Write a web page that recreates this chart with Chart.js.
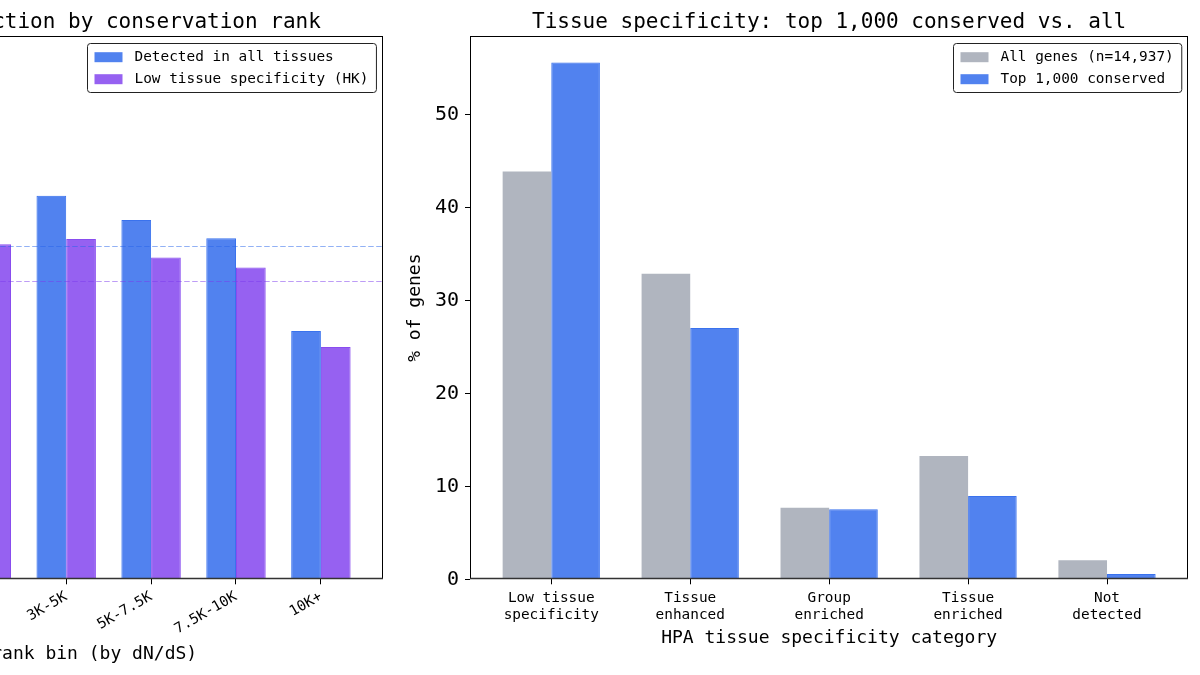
<!DOCTYPE html>
<html>
<head>
<meta charset="utf-8">
<script src="https://cdn.jsdelivr.net/npm/chart.js@4.4.1/dist/chart.umd.min.js"></script>
<style>
  html, body { margin: 0; padding: 0; background: #fff; }
  body { width: 1200px; height: 675px; overflow: hidden; position: relative; }
  .panel { position: absolute; top: 0; height: 675px; }
  #leftBox { left: -420px; width: 820px; }
  #rightBox { left: 400px; width: 800px; }
</style>
</head>
<body>
<div class="panel" id="leftBox"><canvas id="leftChart" width="820" height="675"></canvas></div>
<div class="panel" id="rightBox"><canvas id="rightChart" width="800" height="675"></canvas></div>
<script>
const FONT = '"DejaVu Sans Mono", monospace';

// left panel (the figure is cropped, first bins sit off-screen)
const rankBins = ['0-500', '500-1K', '1K-2K', '2K-3K', '3K-5K', '5K-7.5K', '7.5K-10K', '10K+'];
const detectedAll = [52.0, 50.5, 49.5, 48.0, 45.9, 43.0, 40.8, 29.7];
const lowSpecHK = [44.0, 42.5, 41.5, 40.1, 40.7, 38.5, 37.3, 27.8];
const overallDetected = 39.9;
const overallHK = 35.7;
const leftTicks = [0, 10, 20, 30, 40, 50, 60];

// right panel
const hpaCategories = [['Low tissue', 'specificity'], ['Tissue', 'enhanced'], ['Group', 'enriched'], ['Tissue', 'enriched'], ['Not', 'detected']];
const allGenesPct = [43.9, 32.9, 7.7, 13.27, 2.05];
const top1000Pct = [55.65, 27.05, 7.53, 8.97, 0.57];
const rightTicks = [0, 10, 20, 30, 40, 50];

const BLUE = 'rgba(37,99,235,0.8)';
const PURPLE = 'rgba(124,58,237,0.8)';
const GRAY = 'rgba(156,163,175,0.8)';

// matplotlib-ish frame: spines, title, legend, dashed reference lines
const mplFrame = {
  id: 'mplFrame',
  afterDatasetsDraw(chart, args, opts) {
    const ctx = chart.ctx, a = chart.chartArea, y = chart.scales.y;
    ctx.save();
    (opts.refLines || []).forEach(r => {
      const py = Math.round(y.getPixelForValue(r.value)) + 0.5;
      ctx.strokeStyle = r.color;
      ctx.lineWidth = 1.2;
      ctx.setLineDash([5.5, 2.5]);
      ctx.beginPath();
      ctx.moveTo(a.left, py);
      ctx.lineTo(a.right, py);
      ctx.stroke();
    });
    ctx.setLineDash([]);
    const L = Math.round(a.left) + 0.5, R = Math.round(a.right) - 0.5;
    const T = Math.round(a.top) + 0.5, B = Math.round(a.bottom) - 0.5;
    ctx.strokeStyle = '#000';
    ctx.lineWidth = 1;
    ctx.strokeRect(L, T, R - L, B - T);
    ctx.strokeStyle = '#333';
    ctx.lineWidth = 1.6;
    ctx.beginPath();
    ctx.moveTo(L - 0.5, B);
    ctx.lineTo(R + 0.5, B);
    ctx.stroke();

    ctx.fillStyle = '#000';
    ctx.font = '21px ' + FONT;
    ctx.textAlign = 'center';
    ctx.textBaseline = 'alphabetic';
    ctx.fillText(opts.title, (a.left + a.right) / 2, a.top - 8.5);

    // legend box, upper right
    const items = chart.data.datasets;
    ctx.font = '14.4px ' + FONT;
    const tw = Math.max(...items.map(d => ctx.measureText(d.label).width));
    const w = 7 + 28 + 12 + tw + 8, h = 49;
    const x0 = Math.round(a.right - 7 - w) + 0.5, y0 = Math.round(a.top + 7) + 0.5;
    ctx.beginPath();
    ctx.roundRect(x0, y0, w, h, 3);
    ctx.fillStyle = 'rgba(255,255,255,0.85)';
    ctx.fill();
    ctx.lineWidth = 1;
    ctx.strokeStyle = '#222';
    ctx.stroke();
    items.forEach((d, i) => {
      const cy = y0 + 13.7 + i * 22;
      ctx.fillStyle = d.backgroundColor;
      ctx.fillRect(x0 + 7, cy - 5, 28, 10);
      ctx.fillStyle = '#000';
      ctx.textAlign = 'left';
      ctx.textBaseline = 'middle';
      ctx.fillText(d.label, x0 + 47, cy);
    });
    ctx.restore();
  }
};

function tickGrid() {
  return { drawOnChartArea: false, offset: false, tickLength: 5, tickColor: '#000', tickWidth: 1 };
}

// left chart: Detected in all tissues vs HK by rank bin
new Chart(document.getElementById('leftChart'), {
  type: 'bar',
  data: {
    datasets: [
      { label: 'Detected in all tissues', data: detectedAll.map((v, i) => ({ x: i, y: v })),
        backgroundColor: BLUE, borderColor: 'rgba(37,99,235,0.9)', borderWidth: 1,
        categoryPercentage: 0.7, barPercentage: 1.0 },
      { label: 'Low tissue specificity (HK)', data: lowSpecHK.map((v, i) => ({ x: i, y: v })),
        backgroundColor: PURPLE, borderColor: 'rgba(124,58,237,0.9)', borderWidth: 1,
        categoryPercentage: 0.7, barPercentage: 1.0 }
    ]
  },
  options: {
    responsive: false,
    animation: false,
    layout: { padding: { left: 0, right: 16.7, top: 36, bottom: 0 } },
    plugins: {
      legend: { display: false },
      tooltip: { enabled: false },
      mplFrame: {
        title: 'Housekeeping gene fraction by conservation rank',
        refLines: [
          { value: overallDetected, color: 'rgba(37,99,235,0.5)' },
          { value: overallHK, color: 'rgba(124,58,237,0.5)' }
        ]
      }
    },
    scales: {
      x: {
        type: 'linear', min: -0.735, max: 7.735, offset: false,
        afterBuildTicks: s => { s.ticks = rankBins.map((_, i) => ({ value: i })); },
        afterFit: s => { s.height = 95.7; },
        grid: tickGrid(),
        border: { display: false },
        ticks: {
          callback: v => rankBins[v], autoSkip: false, minRotation: 30, maxRotation: 30,
          font: { family: FONT, size: 14.4 }, color: '#000', padding: 4
        },
        title: { display: true, text: 'Conservation rank bin (by dN/dS)', color: '#000',
          font: { family: FONT, size: 18 }, padding: { top: 0, bottom: 10.2 } }
      },
      y: {
        min: 0, max: 65,
        afterBuildTicks: s => { s.ticks = leftTicks.map(v => ({ value: v })); },
        afterFit: s => { s.width = 84.2; },
        grid: tickGrid(),
        border: { display: false },
        ticks: { font: { family: FONT, size: 20 }, color: '#000', padding: 6 },
        title: { display: true, text: '% of genes in bin', color: '#000',
          font: { family: FONT, size: 18 }, padding: { top: 4.7, bottom: 0 } }
      }
    }
  },
  plugins: [mplFrame]
});

// right chart: HPA tissue specificity
new Chart(document.getElementById('rightChart'), {
  type: 'bar',
  data: {
    datasets: [
      { label: 'All genes (n=14,937)', data: allGenesPct.map((v, i) => ({ x: i, y: v })),
        backgroundColor: GRAY, borderWidth: 0,
        categoryPercentage: 0.7, barPercentage: 1.0 },
      { label: 'Top 1,000 conserved', data: top1000Pct.map((v, i) => ({ x: i, y: v })),
        backgroundColor: BLUE, borderColor: 'rgba(37,99,235,0.9)', borderWidth: 1,
        categoryPercentage: 0.7, barPercentage: 1.0 }
    ]
  },
  options: {
    responsive: false,
    animation: false,
    layout: { padding: { left: 0, right: 11.7, top: 36, bottom: 0 } },
    plugins: {
      legend: { display: false },
      tooltip: { enabled: false },
      mplFrame: { title: 'Tissue specificity: top 1,000 conserved vs. all' }
    },
    scales: {
      x: {
        type: 'linear', min: -0.585, max: 4.585, offset: false,
        afterBuildTicks: s => { s.ticks = hpaCategories.map((_, i) => ({ value: i })); },
        afterFit: s => { s.height = 95.7; },
        grid: tickGrid(),
        border: { display: false },
        ticks: {
          callback: v => hpaCategories[v], autoSkip: false, maxRotation: 0,
          font: { family: FONT, size: 14.4, lineHeight: 1.18 }, color: '#000', padding: 5
        },
        title: { display: true, text: 'HPA tissue specificity category', color: '#000',
          font: { family: FONT, size: 18 }, padding: { top: 0, bottom: 26.2 } }
      },
      y: {
        min: 0, max: 58.5,
        afterBuildTicks: s => { s.ticks = rightTicks.map(v => ({ value: v })); },
        afterFit: s => { s.width = 70; },
        grid: tickGrid(),
        border: { display: false },
        ticks: { font: { family: FONT, size: 20 }, color: '#000', padding: 6 },
        title: { display: true, text: '% of genes', color: '#000',
          font: { family: FONT, size: 18 }, padding: { top: 4.7, bottom: 0 } }
      }
    }
  },
  plugins: [mplFrame]
});
</script>
</body>
</html>
